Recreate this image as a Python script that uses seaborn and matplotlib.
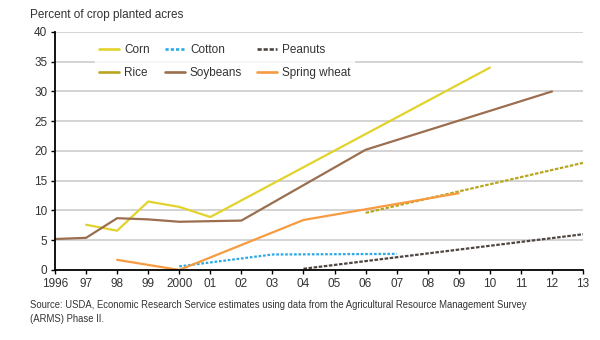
import matplotlib
matplotlib.use("Agg")
import matplotlib.pyplot as plt
from matplotlib.lines import Line2D
import seaborn as sns
import pandas as pd

# Observed shares of planted acres (percent) by crop and survey year
corn_years = [1997, 1998, 1999, 2000, 2001, 2010]
corn_vals = [7.6, 6.6, 11.5, 10.6, 8.9, 34.0]

cotton_years = [2000, 2003, 2007]
cotton_vals = [0.6, 2.6, 2.7]

peanut_years = [2004, 2013]
peanut_vals = [0.2, 6.0]

rice_years = [2006, 2013]
rice_vals = [9.6, 18.0]

soy_years = [1996, 1997, 1998, 1999, 2000, 2001, 2002, 2006, 2012]
soy_vals = [5.2, 5.4, 8.7, 8.5, 8.1, 8.2, 8.3, 20.2, 30.0]

wheat_years = [1998, 2000, 2004, 2009]
wheat_vals = [1.7, 0.0, 8.4, 12.9]

crops = ["Corn", "Cotton", "Peanuts", "Rice", "Soybeans", "Spring wheat"]
colors = {
    "Corn": "#e2d32c",
    "Cotton": "#2aa9e3",
    "Peanuts": "#4f4541",
    "Rice": "#b8a61e",
    "Soybeans": "#9b6e4f",
    "Spring wheat": "#f79b42",
}
dashes = {
    "Corn": "",
    "Cotton": (1.2, 0.8),
    "Peanuts": (1.6, 0.7),
    "Rice": (1.6, 0.7),
    "Soybeans": "",
    "Spring wheat": "",
}
# Legend keys: rice is shown as a solid swatch
legend_dashes = dict(dashes, Rice="")

x_ticks = list(range(1996, 2014))
x_labels = ["1996", "97", "98", "99", "2000", "01", "02", "03", "04", "05",
            "06", "07", "08", "09", "10", "11", "12", "13"]
y_ticks = [0, 5, 10, 15, 20, 25, 30, 35, 40]

series = {
    "Corn": (corn_years, corn_vals),
    "Cotton": (cotton_years, cotton_vals),
    "Peanuts": (peanut_years, peanut_vals),
    "Rice": (rice_years, rice_vals),
    "Soybeans": (soy_years, soy_vals),
    "Spring wheat": (wheat_years, wheat_vals),
}
rows = []
for crop, (yrs, vals) in series.items():
    for yr, v in zip(yrs, vals):
        rows.append({"year": yr, "value": v, "crop": crop})
df = pd.DataFrame(rows)

sns.set_theme(style="white")
plt.rcParams["font.family"] = ["Liberation Sans", "DejaVu Sans"]

fig = plt.figure(figsize=(6, 3.4), dpi=100)
ax = fig.add_axes([0.0917, 0.206, 0.88, 0.70])

for y in y_ticks[1:]:
    ax.axhline(y, color="#c8c8c8", lw=1.1, zorder=0)

sns.lineplot(data=df, x="year", y="value", hue="crop", style="crop",
             hue_order=crops, style_order=crops, palette=colors,
             dashes=dashes, linewidth=1.6, legend=False, ax=ax,
             estimator=None, sort=True)

ax.set_xlim(1996, 2013)
ax.set_ylim(0, 40)
ax.set_xticks(x_ticks)
ax.set_xticklabels(x_labels)
ax.set_yticks(y_ticks)
ax.set_xlabel("")
ax.set_ylabel("")
for s in ["top", "right"]:
    ax.spines[s].set_visible(False)
for s in ["left", "bottom"]:
    ax.spines[s].set_color("black")
    ax.spines[s].set_linewidth(1.3)
ax.tick_params(axis="both", which="major", labelsize=8.5, colors="black",
               labelcolor="#333333", length=3, width=1, direction="out",
               bottom=True, left=True, pad=2.5)

legend_order = ["Corn", "Rice", "Cotton", "Soybeans", "Peanuts", "Spring wheat"]
handles = []
for c in legend_order:
    d = legend_dashes[c]
    ls = "-" if d == "" else (0, d)
    handles.append(Line2D([0], [0], color=colors[c], lw=1.9, linestyle=ls))
leg = ax.legend(handles, legend_order, ncol=3, loc="upper left",
                bbox_to_anchor=(0.065, 0.99), frameon=True, fontsize=8.5,
                handlelength=1.7, handletextpad=0.45, columnspacing=1.25,
                labelspacing=0.95, borderpad=0.3)
leg.get_frame().set_facecolor("white")
leg.get_frame().set_edgecolor("white")
for t in leg.get_texts():
    t.set_color("#333333")

fig.text(0.05, 0.955, "Percent of crop planted acres", fontsize=8.5,
         color="#333333", va="center")
fig.text(0.05, 0.082,
         "Source: USDA, Economic Research Service estimates using data from the "
         "Agricultural Resource Management Survey\n(ARMS) Phase II.",
         fontsize=6.85, color="#333333", va="center", linespacing=1.45)

fig.savefig("out.png", dpi=100)
